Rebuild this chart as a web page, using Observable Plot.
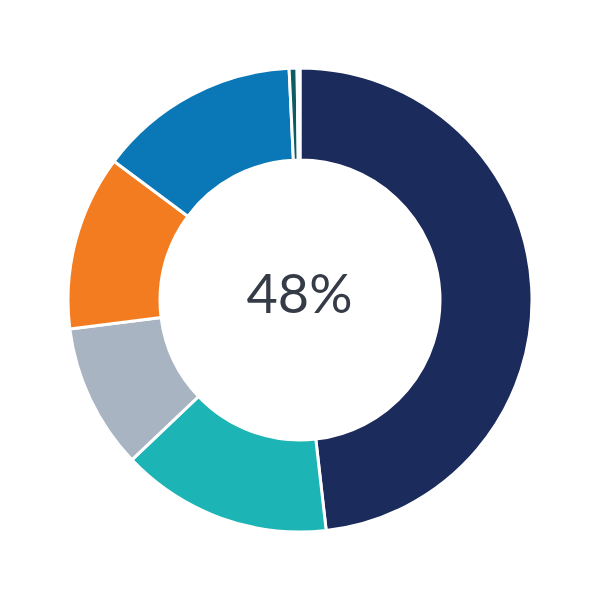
<!DOCTYPE html>
<html>
<head>
<meta charset="utf-8">
<script src="https://cdn.jsdelivr.net/npm/d3@7"></script>
<script src="https://cdn.jsdelivr.net/npm/@observablehq/plot@0.6"></script>
<style>
  html, body { margin: 0; padding: 0; background: #fff; }
</style>
</head>
<body>
<div id="chart"></div>
<script>
const categories = ["A", "B", "C", "D", "E", "F", "G"];
const values = [48.2, 14.7, 10.1, 12.2, 14.05, 0.55, 0.2];
const colors = ["#1b2b5b", "#1cb4b5", "#a9b4c2", "#f47c20", "#0a77b6", "#0d5c63", "#ffffff"];
const centerLabel = "48%";

const data = categories.map((c, i) => ({name: c, value: values[i]}));

const W = 600, H = 600;
const outerR = 232, innerR = 140;

const arcMark = Plot.dot(data, {
  x: () => 0, y: () => 0, fill: "name", r: 0,
  render(index, scales, vals, dims, context) {
    const g = d3.create("svg:g");
    const pie = d3.pie().sort(null).value(i => data[i].value);
    const arcs = pie(index);
    const arc = d3.arc().innerRadius(innerR).outerRadius(outerR);
    const cx = scales.x(0), cy = scales.y(0);
    g.attr("transform", `translate(${cx},${cy})`);
    g.selectAll("path").data(arcs).join("path")
      .attr("d", arc)
      .attr("fill", d => vals.fill[d.data])
      .attr("stroke", "#ffffff")
      .attr("stroke-width", 3)
      .attr("stroke-linejoin", "round");
    return g.node();
  }
});

const chart = Plot.plot({
  width: W,
  height: H,
  margin: 0,
  x: {domain: [-300, 300], axis: null},
  y: {domain: [300, -300], axis: null},
  color: {domain: categories, range: colors},
  style: {background: "#fff"},
  marks: [
    arcMark,
    Plot.text([centerLabel], {
      x: () => -1, y: () => 0, text: d => d,
      fontSize: 54, fill: "#363c47", fontWeight: 400,
      fontFamily: "Lato, 'Open Sans', sans-serif",
      dy: -5
    })
  ]
});
document.getElementById("chart").append(chart);
</script>
</body>
</html>
